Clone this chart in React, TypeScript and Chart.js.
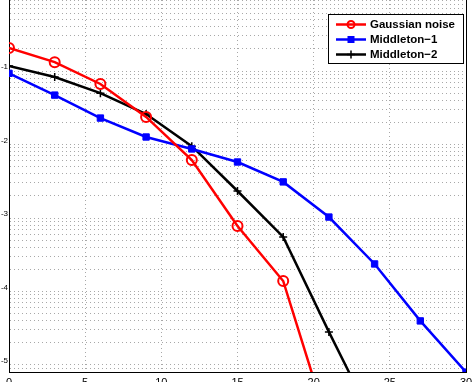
import React, { useEffect, useRef } from "react";
import { Chart, registerables } from "chart.js";

Chart.register(...registerables);

const snrRed = [0, 3, 6, 9, 12, 15, 18, 21];
const gaussian = [0.206, 0.132, 0.0666, 0.0237, 0.00615, 7.78e-4, 1.39e-4, 1.4e-6];
const snrBlue = [0, 3, 6, 9, 12, 15, 18, 21, 24, 27, 30];
const middleton1 = [0.093, 0.047, 0.0229, 0.01265, 0.0087, 0.00578, 0.0031, 0.00103, 2.37e-4, 3.98e-5, 8.0e-6];
const snrBlack = [0, 3, 6, 9, 12, 15, 18, 21, 24];
const middleton2 = [0.117, 0.0828, 0.05, 0.026, 0.0095, 0.00233, 5.52e-4, 2.82e-5, 1.6e-6];
const seriesNames = ["Gaussian noise", "Middleton\u22121", "Middleton\u22122"];
const xTicks = [0, 5, 10, 15, 20, 25, 30];
const Y_MIN = 8.03e-6;
const Y_MAX = 0.925;

const FONT = "'Liberation Sans', Arial, Helvetica, sans-serif";

function pts(xs: number[], ys: number[]) {
  return xs.map((x, i) => ({ x, y: ys[i] }));
}

const legendPlugin = {
  id: "matlabLegend",
  afterDraw(chart: any) {
    const ctx = chart.ctx;
    const ca = chart.chartArea;
    ctx.save();
    ctx.setLineDash([]);
    // right axis border
    ctx.strokeStyle = "#000";
    ctx.lineWidth = 1;
    ctx.beginPath();
    ctx.moveTo(Math.round(ca.right) + 0.5, ca.top);
    ctx.lineTo(Math.round(ca.right) + 0.5, ca.bottom);
    ctx.stroke();

    const bx = 328.5, by = 14.5, bw = 135, bh = 49;
    ctx.fillStyle = "#fff";
    ctx.fillRect(bx, by, bw, bh);
    ctx.strokeStyle = "#000";
    ctx.lineWidth = 1;
    ctx.strokeRect(bx, by, bw, bh);
    const rows = [24.5, 39.5, 54.5];
    const colors = ["#ff0000", "#0000ff", "#000000"];
    rows.forEach((yy, i) => {
      ctx.strokeStyle = colors[i];
      ctx.lineWidth = 2.5;
      ctx.beginPath();
      ctx.moveTo(336, yy);
      ctx.lineTo(366, yy);
      ctx.stroke();
      const cx = 351;
      if (i === 0) {
        ctx.lineWidth = 2;
        ctx.beginPath();
        ctx.arc(cx, yy, 3.5, 0, Math.PI * 2);
        ctx.stroke();
      } else if (i === 1) {
        ctx.fillStyle = colors[i];
        ctx.fillRect(cx - 3.5, yy - 3.5, 7, 7);
      } else {
        ctx.lineWidth = 1.5;
        ctx.beginPath();
        ctx.moveTo(cx - 4, yy);
        ctx.lineTo(cx + 4, yy);
        ctx.moveTo(cx, yy - 4);
        ctx.lineTo(cx, yy + 4);
        ctx.stroke();
      }
      ctx.fillStyle = "#000";
      ctx.font = "bold 11.5px " + FONT;
      ctx.textBaseline = "middle";
      ctx.textAlign = "left";
      ctx.fillText(seriesNames[i], 370, yy + 0.5);
    });
    ctx.restore();
  },
};

function buildLogTicks(min: number, max: number) {
  const out: { value: number }[] = [];
  for (let e = -7; e <= 1; e++) {
    for (let m = 1; m <= 9; m++) {
      const v = Number((m * Math.pow(10, e)).toPrecision(3));
      if (v >= min && v <= max) out.push({ value: v });
    }
  }
  return out;
}

export default function App() {
  const ref = useRef<HTMLCanvasElement | null>(null);
  useEffect(() => {
    document.body.style.margin = "0";
    const canvas = ref.current;
    if (!canvas) return;
    const grid = {
      color: "#a8a8a8",
      lineWidth: 1,
      drawTicks: false,
    };
    const border = { display: true, color: "#000", width: 1, dash: [1, 3] };
    const chart = new Chart(canvas, {
      type: "line",
      data: {
        datasets: [
          {
            label: seriesNames[0],
            data: pts(snrRed, gaussian),
            borderColor: "#ff0000",
            backgroundColor: "rgba(0,0,0,0)",
            borderWidth: 2.5,
            pointStyle: "circle",
            pointRadius: 5,
            pointBorderWidth: 2,
            pointBorderColor: "#ff0000",
            pointBackgroundColor: "rgba(0,0,0,0)",
          },
          {
            label: seriesNames[1],
            data: pts(snrBlue, middleton1),
            borderColor: "#0000ff",
            backgroundColor: "#0000ff",
            borderWidth: 2.5,
            pointStyle: "rect",
            pointRadius: 4.5,
            pointBorderWidth: 1,
            pointBorderColor: "#0000ff",
            pointBackgroundColor: "#0000ff",
          },
          {
            label: seriesNames[2],
            data: pts(snrBlack, middleton2),
            borderColor: "#000000",
            backgroundColor: "#000000",
            borderWidth: 2.5,
            pointStyle: "cross",
            pointRadius: 4,
            pointBorderWidth: 1.5,
            pointBorderColor: "#000000",
          },
        ],
      },
      options: {
        responsive: false,
        animation: false,
        layout: { autoPadding: false, padding: { top: 0, right: 8, left: 0, bottom: 0 } },
        plugins: { legend: { display: false }, tooltip: { enabled: false } },
        elements: { line: { tension: 0 } },
        scales: {
          x: {
            type: "linear",
            min: 0,
            max: 30,
            afterBuildTicks: (s: any) => {
              s.ticks = xTicks.map((v) => ({ value: v }));
            },
            afterFit: (s: any) => {
              s.height = 10;
              s.paddingLeft = 0;
              s.paddingRight = 0;
              s.paddingTop = 0;
              s.paddingBottom = 0;
            },
            ticks: {
              autoSkip: false,
              maxRotation: 0,
              padding: 4,
              color: "#000",
              font: { family: FONT, size: 11 },
            },
            grid,
            border,
          },
          y: {
            type: "logarithmic",
            min: Y_MIN,
            max: Y_MAX,
            afterBuildTicks: (s: any) => {
              s.ticks = buildLogTicks(Y_MIN, Y_MAX);
            },
            afterFit: (s: any) => {
              s.width = 9;
              s.paddingTop = 0;
              s.paddingBottom = 0;
              s.paddingLeft = 0;
              s.paddingRight = 0;
            },
            ticks: {
              autoSkip: false,
              padding: 1,
              labelOffset: -4,
              color: "#000",
              font: { family: FONT, size: 8 },
              callback: (v: any) => {
                const l = Math.log10(Number(v));
                if (Math.abs(l - Math.round(l)) < 1e-6) return String(Math.round(l));
                return "";
              },
            },
            grid,
            border,
          },
        },
      },
      plugins: [legendPlugin],
    } as any);
    return () => chart.destroy();
  }, []);
  return (
    <div style={{ position: "absolute", left: 0, top: 0, width: 474, height: 382, background: "#fff" }}>
      <canvas ref={ref} width={474} height={382} style={{ display: "block" }} />
    </div>
  );
}
